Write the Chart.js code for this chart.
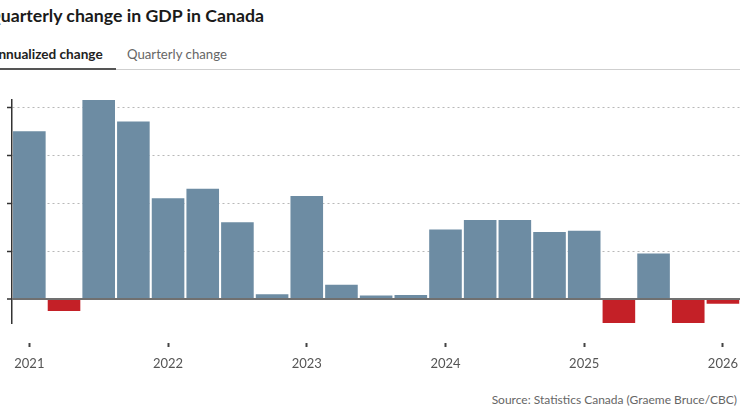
<!DOCTYPE html>
<html>
<head>
<meta charset="utf-8">
<script src="https://cdn.jsdelivr.net/npm/chart.js@4.4.1/dist/chart.umd.min.js"></script>
<style>
  html, body { margin: 0; padding: 0; background: #fff; overflow: hidden; }
  body { width: 740px; height: 416px; position: relative; font-family: Lato, "Noto Sans", sans-serif; overflow: hidden; }
  #title { position: absolute; left: -13.5px; top: 5px; font-size: 17.7px; font-weight: 700; color: #1a1a1a; white-space: nowrap; }
  #tabs { position: absolute; left: 0; top: 43px; width: 740px; height: 28px; }
  #tabs .line { position: absolute; left: 0; top: 26px; width: 740px; height: 1px; background: #cfcfcf; }
  #tabs .active { position: absolute; left: -10px; top: 0; width: 126px; height: 27px; border-bottom: 2px solid #555; box-sizing: border-box; }
  #tabs .t1 { position: absolute; left: -11px; top: 3px; font-size: 13.6px; font-weight: 700; color: #222; white-space: nowrap; }
  #tabs .t2 { position: absolute; left: 127px; top: 3px; font-size: 13.2px; color: #666; white-space: nowrap; }
  #wrap { position: absolute; left: 0; top: 85px; width: 746px; height: 300px; }
  #source { position: absolute; right: 3px; top: 392px; font-size: 12px; color: #666; white-space: nowrap; }
</style>
</head>
<body>
<div id="title">Quarterly change in GDP in Canada</div>
<div id="tabs">
  <div class="line"></div>
  <div class="active"></div>
  <div class="t1">Annualized change</div>
  <div class="t2">Quarterly change</div>
</div>
<div id="wrap"><canvas id="c"></canvas></div>
<div id="source">Source: Statistics Canada (Graeme Bruce/CBC)</div>
<script>
const quarters = [
  "2021 Q1","2021 Q2","2021 Q3","2021 Q4",
  "2022 Q1","2022 Q2","2022 Q3","2022 Q4",
  "2023 Q1","2023 Q2","2023 Q3","2023 Q4",
  "2024 Q1","2024 Q2","2024 Q3","2024 Q4",
  "2025 Q1","2025 Q2","2025 Q3","2025 Q4",
  "2026 Q1"
];
const annualizedChange = [
  7.0, -0.5, 8.3, 7.4,
  4.2, 4.6, 3.2, 0.2,
  4.3, 0.6, 0.15, 0.17,
  2.9, 3.3, 3.3, 2.8,
  2.85, -1.0, 1.9, -1.0,
  -0.2
];
const yTicks = [0, 2, 4, 6, 8];
const yMin = -1.0;
const yMax = 8.3;

const BLUE = "#6d8ca3";
const RED = "#c42027";

new Chart(document.getElementById("c"), {
  type: "bar",
  data: {
    labels: quarters,
    datasets: [{
      data: annualizedChange,
      backgroundColor: annualizedChange.map(v => v < 0 ? RED : BLUE),
      borderWidth: 0,
      barPercentage: 0.94,
      categoryPercentage: 1.0
    }]
  },
  options: {
    responsive: true,
    maintainAspectRatio: false,
    animation: false,
    layout: { padding: { top: 15, left: 0, right: 0, bottom: 0 } },
    plugins: { legend: { display: false }, tooltip: { enabled: false } },
    scales: {
      x: {
        offset: true,
        afterBuildTicks: s => { s.ticks = s.ticks.filter(t => t.value % 4 === 0); },
        afterFit: s => { s.height = 62; },
        grid: {
          offset: false,
          drawOnChartArea: false,
          drawTicks: true,
          tickLength: 25,
          tickWidth: 2,
          tickColor: "#444",
          tickBorderDash: [0, 20, 4, 200]
        },
        border: { display: false },
        ticks: {
          autoSkip: false,
          maxRotation: 0,
          padding: 8,
          color: "#555",
          font: { family: "Lato", size: 13 },
          callback: function(v) { return quarters[v].slice(0, 4); }
        }
      },
      y: {
        min: yMin,
        max: yMax,
        afterBuildTicks: s => { s.ticks = yTicks.map(v => ({ value: v })); },
        afterFit: s => { s.width = 12; },
        grid: {
          drawTicks: true,
          tickLength: 5,
          tickWidth: 1.5,
          tickColor: "#333",
          lineWidth: ctx => (ctx.tick && ctx.tick.value === 0) ? 2 : 1,
          color: ctx => (ctx.tick && ctx.tick.value === 0) ? "#707070" : "#b8b8b8"
        },
        border: {
          display: true,
          color: "#333",
          width: 1.5,
          dash: ctx => (ctx.tick && ctx.tick.value === 0) ? [] : [2, 3]
        },
        ticks: { display: false }
      }
    }
  }
});
</script>
</body>
</html>
